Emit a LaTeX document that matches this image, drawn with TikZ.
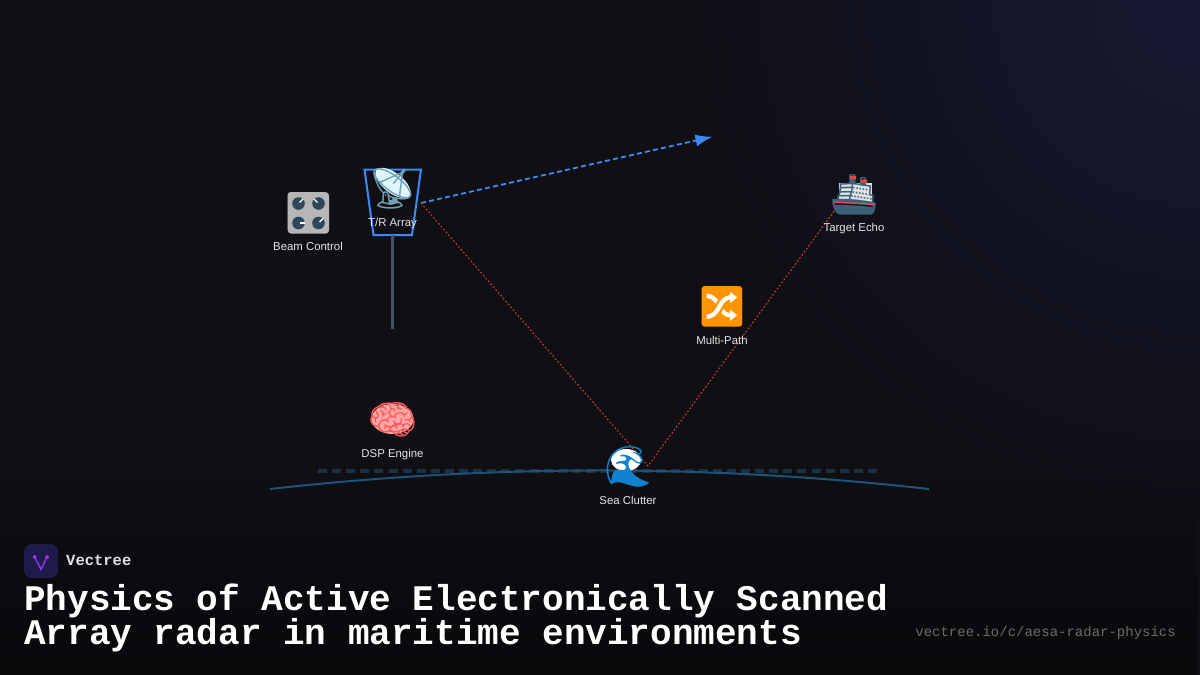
\documentclass[tikz,border=0pt]{standalone}
\usepackage{fontspec}
\setmainfont{Liberation Sans}
\setmonofont{Liberation Mono}
\newfontfamily\emojifont{Noto Emoji}
\usetikzlibrary{
  arrows.meta,
  positioning,
  shapes.geometric,
  fadings
}
\definecolor{bgcolor}{RGB}{15,15,20}
\definecolor{glowcolor}{RGB}{23,25,50}
\definecolor{floorcolor}{RGB}{9,9,12}
\definecolor{beamcolor}{RGB}{60,138,246}
\definecolor{echocolor}{RGB}{215,60,55}
\definecolor{mastcolor}{RGB}{71,80,100}
\definecolor{seacolor}{RGB}{28,48,68}
\definecolor{horizoncolor}{RGB}{28,84,122}
\definecolor{logocolor}{RGB}{30,27,75}
\definecolor{logoedge}{RGB}{49,46,110}
\definecolor{logomark}{RGB}{147,51,234}
\definecolor{knobcolor}{RGB}{45,72,88}
\definecolor{panelcolor}{RGB}{182,182,182}
\definecolor{shipcolor}{RGB}{58,98,120}
\tikzfading[name=glowfade, inner color=transparent!0, outer color=transparent!100]
\tikzfading[name=floorfade, top color=transparent!100, bottom color=transparent!0]

\begin{document}
\begin{tikzpicture}[x=1pt, y=-1pt, >=Stealth, font=\fontsize{11.4}{13}\selectfont]
  \tikzset{
    icon/.style={font=\emojifont\fontsize{40}{42}\selectfont, inner sep=0pt},
    lbl/.style={font=\fontsize{11.4}{13}\selectfont, text=white!90!black, inner sep=0pt, anchor=base},
    knob/.style={fill=knobcolor, draw=none},
    tick/.style={white, line width=1.2pt}
  }

  % ---- Background ----
  \useasboundingbox (0,0) rectangle (1200,675);
  \fill[bgcolor] (0,0) rectangle (1200,675);
  \fill[glowcolor, path fading=glowfade] (650,-550) rectangle (1750,550);
  \fill[floorcolor, path fading=floorfade] (0,480) rectangle (1200,675);

  % ---- Sea surface ----
  \coordinate (seaL) at (318,470.5);
  \coordinate (seaR) at (878,470.5);
  \coordinate (arcL) at (270,489);
  \coordinate (arcR) at (929,489);
  \draw[seacolor, line width=4pt, dash pattern=on 9pt off 5.1pt] (seaL) -- (seaR);
  \draw[horizoncolor, line width=2pt] (arcL) .. controls (490,464.3) and (710,464.3) .. (arcR);

  % ---- Array and mast ----
  \coordinate (arrayNW) at (364.5,169.5);
  \coordinate (arrayNE) at (421,169.5);
  \coordinate (arraySE) at (412,235);
  \coordinate (arraySW) at (373.5,235);
  \draw[beamcolor, line width=2pt] (arrayNW) -- (arrayNE) -- (arraySE) -- (arraySW) -- cycle;
  \coordinate (masttop) at (392.5,235);
  \coordinate (mastend) at (392.5,329);
  \draw[mastcolor, line width=2.6pt] (masttop) -- (mastend);

  % ---- Free ends of rays ----
  \coordinate (rayorigin) at (421,203);
  \coordinate (beamtip) at (712.5,136.7);
  \coordinate (bounce) at (648,466);
  \coordinate (shiphull) at (835,210);

  \draw[beamcolor, line width=1.8pt, dash pattern=on 5pt off 3.2pt,
        -{Latex[length=17pt, width=12pt]}] (rayorigin) -- (beamtip);
  \draw[echocolor, line width=1pt, dash pattern=on 1.8pt off 2pt] (rayorigin) -- (bounce) -- (shiphull);

  % ---- Icon backings ----
  \fill[panelcolor, rounded corners=3pt] (288,192.5) rectangle (329,233.5);
  \fill[white!88!cyan, rotate around={-38:(393,183)}] (393,183) ellipse (21pt and 10pt);
  \fill[red!35!white] (392.5,419) ellipse (21pt and 15pt);
  \fill[white] (626,460) ellipse (15pt and 11pt);
  \fill[white!88!black] (839,183) rectangle (872,203);
  \fill[white] (705,290) rectangle (739,324);

  % ---- Icons ----
  \node[icon, text=panelcolor] (controls) at (308,213) {🎛};
  \node[icon, text=cyan!40!gray] (dish) at (392.5,189) {📡};
  \node[icon, text=red!65!white] (brain) at (392.5,420) {🧠};
  \node[icon, text=cyan!65!blue] (wave) at (628,467) {🌊};
  \node[icon, text=shipcolor] (ship) at (854,195) {🚢};
  \node[icon, text=orange!85!yellow] (shuffle) at (722,307) {🔀};

  % ---- Knobs and ship trim ----
  \foreach \kx/\ky/\ka in {298.5/203.5/45, 318.5/203.5/135, 298.5/223/0, 318.5/223/45}{
    \fill[knob] (\kx,\ky) circle (6.3pt);
    \draw[tick] (\kx,\ky) ++(\ka:1.5pt) -- ++(\ka:5pt);
  }
  \draw[red!70!white, line width=1.2pt] (834,202) -- (875,204.5);
  \fill[red!75!white] (850,176) rectangle (856,179) (861,179.5) rectangle (867,182.5);

  % ---- Labels ----
  \node[lbl] (controlslbl) at (308,250) {Beam Control};
  \node[lbl] (dishlbl) at (392.5,226) {T/R Array};
  \node[lbl] (brainlbl) at (392.5,457) {DSP Engine};
  \node[lbl] (wavelbl) at (628,504) {Sea Clutter};
  \node[lbl] (shiplbl) at (854,231) {Target Echo};
  \node[lbl] (shufflelbl) at (722,344) {Multi-Path};

  % ---- Branding ----
  \node[draw=logoedge, fill=logocolor, rounded corners=8pt, minimum size=33pt, inner sep=0pt] (logo) at (41,561) {};
  \coordinate (markL) at (34.7,557);
  \coordinate (markR) at (47,557);
  \coordinate (markB) at (41,569.5);
  \draw[logomark, line width=1.4pt] (markL) -- (markB) -- (markR);
  \fill[logomark] (markL) circle (2pt) (markR) circle (2pt);
  \node[font=\ttfamily\bfseries\fontsize{15.5}{17}\selectfont, text=white!88!black, anchor=west, inner sep=0pt] (brand) at (66,560) {Vectree};
  \node[font=\ttfamily\bfseries\fontsize{36}{33}\selectfont, text=white, anchor=north west, align=left, inner sep=0pt]
    (title) at (24,584) {Physics of Active Electronically Scanned\\[-1pt]Array radar in maritime environments};
  \node[font=\ttfamily\fontsize{14}{16}\selectfont, text=white!42!black, anchor=east, inner sep=0pt] (url) at (1176,633) {vectree.io/c/aesa-radar-physics};
\end{tikzpicture}
\end{document}
